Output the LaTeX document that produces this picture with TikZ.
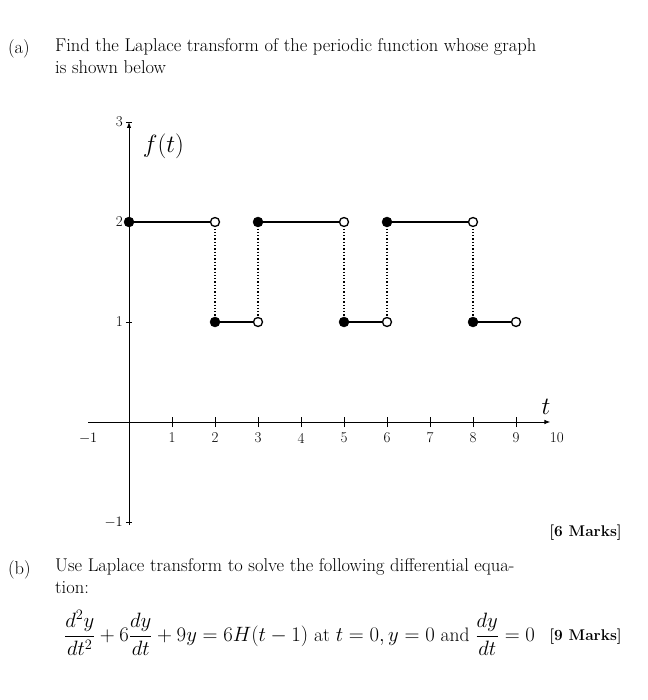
\documentclass[tikz,border=0pt]{standalone}
\usetikzlibrary{arrows.meta}
\begin{document}
\begin{tikzpicture}[x=1pt,y=-1pt,
  txt/.style={inner sep=0pt,anchor=base west,font=\fontsize{18.5}{22}\selectfont},
  tk/.style={inner sep=0pt,font=\fontsize{15}{17}\selectfont},
  fdot/.style={circle,fill=black,draw=black,inner sep=0pt,minimum size=10pt},
  odot/.style={circle,fill=white,draw=black,line width=1.3pt,inner sep=0pt,minimum size=9pt},
  seg/.style={line width=1.3pt},
  drop/.style={line width=1.3pt,dotted}]
\useasboundingbox (0,0) rectangle (647,700);
\node[txt] (la) at (8,54) {(a)};
\node[txt,align=left,anchor=north west] (qa) at (55,38) {Find the Laplace transform of the periodic function whose graph\\is shown below};
\begin{scope}[shift={(129,422)},x=43pt,y=100pt]
  \draw[line width=0.9pt,-{Latex[length=6pt]}] (-0.95,0) -- (9.8,0) coordinate (xe);
  \draw[line width=0.9pt,-{Latex[length=6pt]}] (0,-1.03) -- (0,3) coordinate (ye);
  \node[font=\fontsize{25}{27}\selectfont] (tl) at (9.7,0.15) {$t$};
  \node[font=\fontsize{27}{29}\selectfont] (fl) at (0.8,2.76) {$f(t)$};
  \foreach \v in {3,2,1} {\draw (-0.07,\v) -- (0.07,\v); \node[tk,anchor=east] (yl\v) at (-0.14,\v) {\v};}
  \draw (-0.07,-1) -- (0.07,-1); \node[tk,anchor=east] (ylm) at (-0.14,-1) {$-1$};
  \node[tk] (xlm) at (-0.95,-0.16) {$-1$};
  \foreach \v in {1,...,9} {\draw (\v,-0.05) -- (\v,0.05); \node[tk] (xl\v) at (\v,-0.16) {\v};}
  \node[tk] (xl10) at (9.95,-0.16) {10};
  \foreach \a/\b/\h/\n in {0/2/2/a,2/3/1/b,3/5/2/c,5/6/1/d,6/8/2/e,8/9/1/f} {
    \coordinate (s\n) at (\a,\h); \coordinate (e\n) at (\b,\h);
    \draw[seg] (s\n) -- (e\n);
  }
  \foreach \x/\n in {2/a,3/b,5/c,6/d,8/e} {
    \coordinate (dt\n) at (\x,2); \coordinate (db\n) at (\x,1);
    \draw[drop] (dt\n) -- (db\n);
  }
  \foreach \n in {a,b,c,d,e,f} {\node[fdot] (fd\n) at (s\n) {}; \node[odot] (od\n) at (e\n) {};}
\end{scope}
\node[txt,font=\fontsize{15.5}{17}\selectfont\bfseries,anchor=base east] (m6) at (622,536) {[6 Marks]};
\node[txt] (lb) at (8,574) {(b)};
\node[txt,align=left,anchor=north west] (qb) at (55,558) {Use Laplace transform to solve the following differential equa-\\tion:};
\node[txt,anchor=west,font=\fontsize{19.5}{22}\selectfont] (eq) at (64,633) {$\displaystyle \frac{d^2y}{dt^2}+6\frac{dy}{dt}+9y=6H(t-1)$ at $t=0, y=0$ and $\displaystyle\frac{dy}{dt}=0$};
\node[txt,font=\fontsize{15.5}{17}\selectfont\bfseries,anchor=base east] (m9) at (622,640) {[9 Marks]};
\end{tikzpicture}
\end{document}
